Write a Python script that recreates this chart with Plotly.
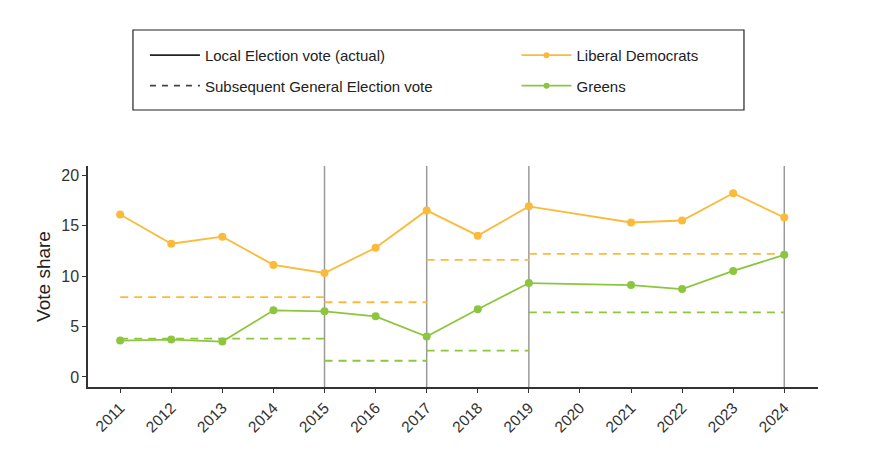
import plotly.graph_objects as go

years = [2011, 2012, 2013, 2014, 2015, 2016, 2017, 2018, 2019, 2021, 2022, 2023, 2024]
libdem_local = [16.1, 13.2, 13.9, 11.1, 10.3, 12.8, 16.5, 14.0, 16.9, 15.3, 15.5, 18.2, 15.8]
greens_local = [3.6, 3.7, 3.5, 6.6, 6.5, 6.0, 4.0, 6.7, 9.3, 9.1, 8.7, 10.5, 12.1]

# General election periods: (start year, election year)
ge_start = [2011, 2015, 2017, 2019]
ge_end = [2015, 2017, 2019, 2024]
libdem_ge = [7.9, 7.4, 11.6, 12.2]
greens_ge = [3.8, 1.6, 2.6, 6.4]

ge_years = [2015, 2017, 2019, 2024]
tick_years = list(range(2011, 2025))

ORANGE = "#FBBA3A"
GREEN = "#8CC63F"
FONT = "Liberation Sans, Arial, sans-serif"

def segs(starts, ends, vals):
    xs, ys = [], []
    for a, b, v in zip(starts, ends, vals):
        xs += [a, b, None]
        ys += [v, v, None]
    return xs, ys

fig = go.Figure()

lx, ly = segs(ge_start, ge_end, libdem_ge)
gx, gy = segs(ge_start, ge_end, greens_ge)
fig.add_trace(go.Scatter(x=lx, y=ly, mode="lines", line=dict(color=ORANGE, width=1.8, dash="8px,6px"),
                         showlegend=False, hoverinfo="skip"))
fig.add_trace(go.Scatter(x=gx, y=gy, mode="lines", line=dict(color=GREEN, width=1.8, dash="8px,6px"),
                         showlegend=False, hoverinfo="skip"))
fig.add_trace(go.Scatter(x=years, y=libdem_local, mode="lines+markers",
                         line=dict(color=ORANGE, width=1.8), marker=dict(color=ORANGE, size=8),
                         showlegend=False))
fig.add_trace(go.Scatter(x=years, y=greens_local, mode="lines+markers",
                         line=dict(color=GREEN, width=1.8), marker=dict(color=GREEN, size=8),
                         showlegend=False))

# Legend entries
fig.add_trace(go.Scatter(x=[None], y=[None], mode="lines", name="Local Election vote (actual)",
                         line=dict(color="#222222", width=1.8), legend="legend", legendgroup="a"))
fig.add_trace(go.Scatter(x=[None], y=[None], mode="lines", name="Subsequent General Election vote",
                         line=dict(color="#444444", width=1.8, dash="6px,6px"), legend="legend", legendgroup="b"))
fig.add_trace(go.Scatter(x=[None], y=[None], mode="lines+markers", name="Liberal Democrats",
                         line=dict(color=ORANGE, width=1.8), marker=dict(color=ORANGE, size=6),
                         legend="legend2", legendgroup="c"))
fig.add_trace(go.Scatter(x=[None], y=[None], mode="lines+markers", name="Greens",
                         line=dict(color=GREEN, width=1.8), marker=dict(color=GREEN, size=6),
                         legend="legend2", legendgroup="d"))

for yr in ge_years:
    fig.add_shape(type="line", xref="x", yref="paper", x0=yr, x1=yr, y0=0, y1=1,
                  line=dict(color="#9a9a9a", width=1.5), layer="below")

# legend frame
fig.add_shape(type="rect", xref="paper", yref="paper", x0=0.0616, x1=0.8986, y0=1.2534, y1=1.6154,
              line=dict(color="#222222", width=1.2))

leg_common = dict(orientation="v", traceorder="grouped", tracegroupgap=8, itemwidth=50,
                  font=dict(family=FONT, size=15, color="#222222"),
                  bgcolor="rgba(0,0,0,0)", borderwidth=0, xanchor="left", yanchor="top")

fig.update_layout(
    width=879, height=455,
    margin=dict(l=88, r=61, t=166, b=68),
    paper_bgcolor="white", plot_bgcolor="white",
    font=dict(family=FONT, size=15, color="#333333"),
    legend=dict(x=0.078, y=1.575, **leg_common),
    legend2=dict(x=0.587, y=1.575, **leg_common),
    xaxis=dict(range=[2010.37, 2024.66], tickmode="array", tickvals=tick_years,
               ticktext=[str(t) for t in tick_years], tickangle=-45,
               showgrid=False, zeroline=False, showline=True, linecolor="#333333", linewidth=1.5,
               ticks="outside", ticklen=4, tickcolor="#333333", tickfont=dict(size=15.5, color="#333333")),
    yaxis=dict(range=[-1.0, 20.9], tickvals=[0, 5, 10, 15, 20],
               showgrid=False, zeroline=False, showline=True, linecolor="#333333", linewidth=1.5,
               ticks="outside", ticklen=4, tickcolor="#333333", tickfont=dict(size=16, color="#333333"),
               title=dict(text="Vote share", font=dict(size=19, color="#222222"), standoff=6)),
)

fig.write_html("out.html")
